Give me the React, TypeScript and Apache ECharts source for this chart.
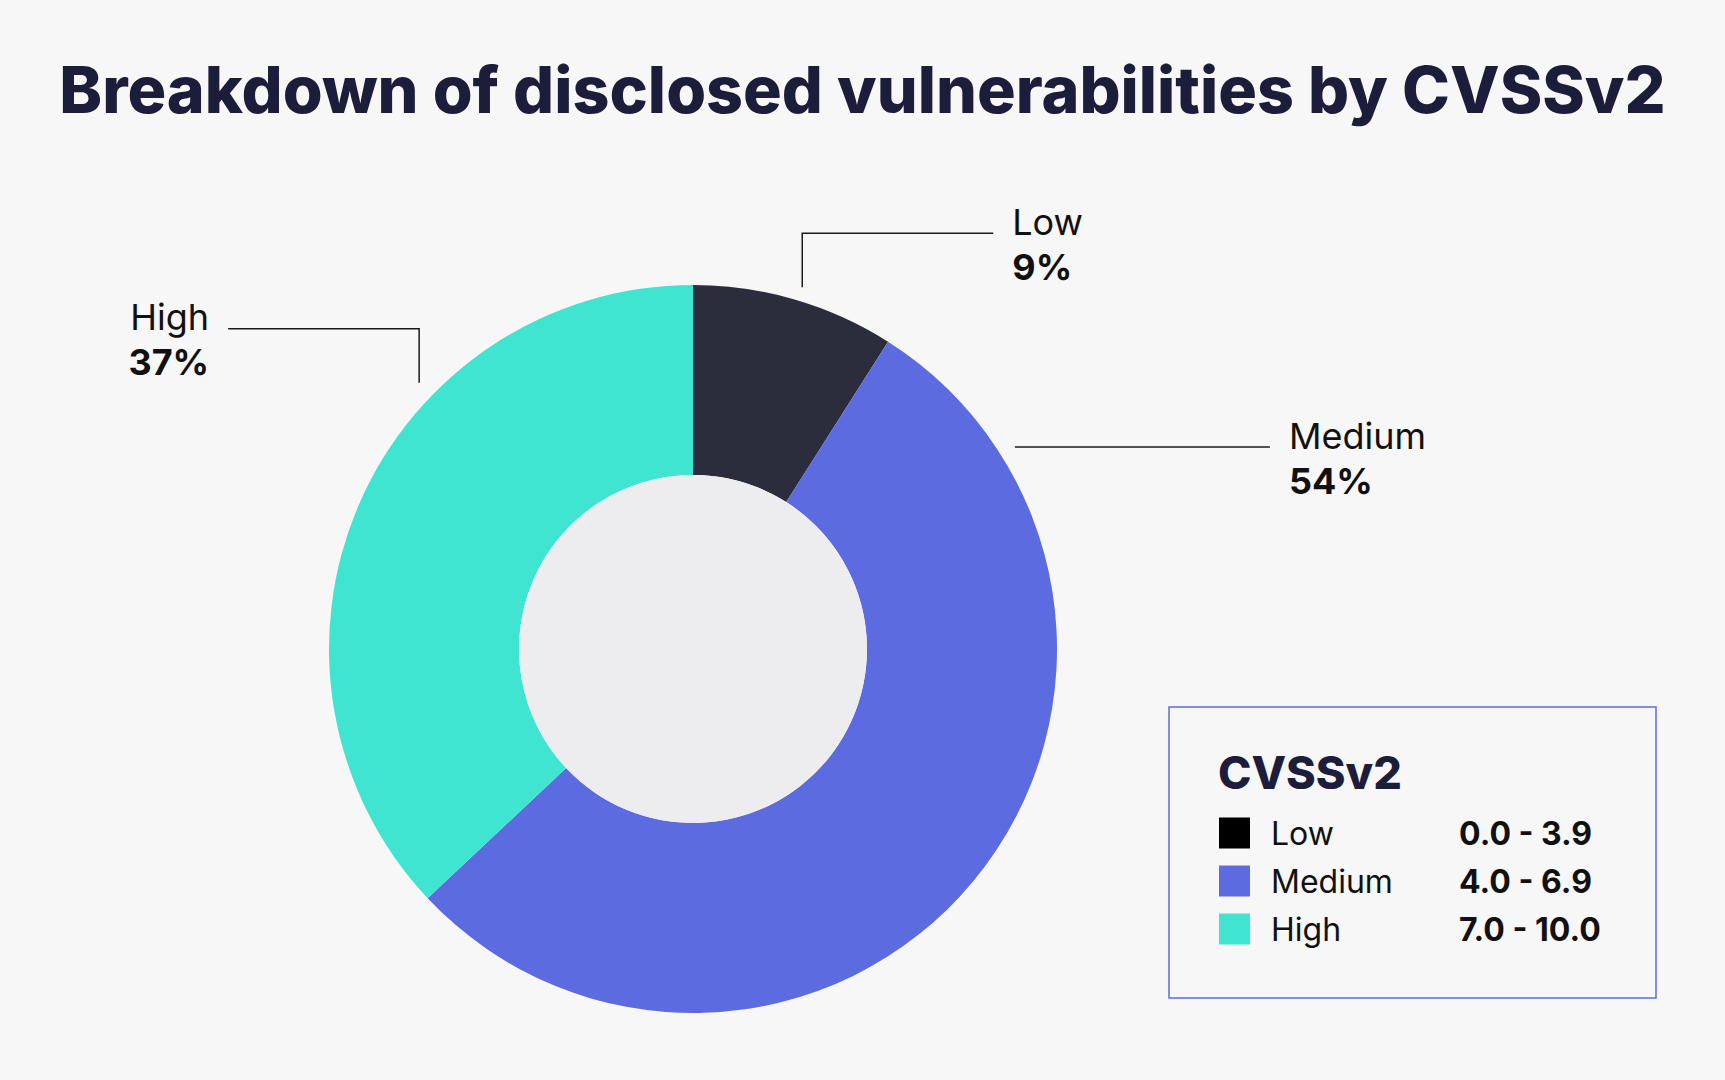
import { useEffect, useRef } from "react";
import * as echarts from "echarts";

const categories = ["Low", "Medium", "High"];
const shares = [9, 54, 37];
const ranges = ["0.0 - 3.9", "4.0 - 6.9", "7.0 - 10.0"];
const sliceColors = ["#2b2d3c", "#5c6be0", "#40e5d2"];
const legendColors = ["#000000", "#5c6be0", "#40e5d2"];

// leader lines: anchor angle (deg from 12 o'clock), anchor radius, rise, run
const leaders = [
  { angle: 16.8, r: 378, rise: 54, run: 191, side: 1 },
  { angle: 57.9, r: 380, rise: 0, run: 255, side: 1 },
  { angle: -45.8, r: 382, rise: 54, run: 191, side: -1 },
];

const CX = 693;
const CY = 649;
const FONT = "Inter, 'Open Sans', sans-serif";

export default function App() {
  const ref = useRef<HTMLDivElement>(null);

  useEffect(() => {
    document.body.style.margin = "0";
    if (!ref.current) return;
    const chart = echarts.init(ref.current, undefined, { renderer: "svg" });

    chart.setOption({
      animation: false,
      backgroundColor: "#f7f7f7",
      textStyle: { fontFamily: FONT },
      title: [
        {
          text: "Breakdown of disclosed vulnerabilities by CVSSv2",
          left: "center",
          top: 52,
          textStyle: {
            fontFamily: FONT,
            fontSize: 64.5,
            fontWeight: 800,
            color: "#1c1d3a",
          },
        },
        {
          text: "CVSSv2",
          left: 1213,
          top: 745,
          textStyle: {
            fontFamily: FONT,
            fontSize: 45,
            fontWeight: 800,
            color: "#1c1d3a",
          },
        },
      ],
      graphic: [
        {
          type: "rect",
          shape: { x: 1169, y: 707, width: 487, height: 291 },
          style: { fill: "none", stroke: "#5c6be0", lineWidth: 1.5 },
          silent: true,
        },
      ],
      legend: {
        orient: "vertical",
        left: 1219,
        top: 817,
        padding: 0,
        itemWidth: 31,
        itemHeight: 31,
        itemGap: 16,
        icon: "rect",
        selectedMode: false,
        data: categories.map((c, i) => ({
          name: c,
          itemStyle: { color: legendColors[i] },
        })),
        formatter: (name: string) =>
          `{n|${name}}{r|${ranges[categories.indexOf(name)]}}`,
        textStyle: {
          rich: {
            n: {
              width: 188,
              padding: [0, 0, 0, 16],
              fontSize: 32,
              fontFamily: FONT,
              color: "#111111",
            },
            r: {
              fontSize: 32,
              fontWeight: 700,
              fontFamily: FONT,
              color: "#111111",
            },
          },
        },
      },
      series: [
        {
          type: "pie",
          silent: true,
          center: [CX, CY],
          radius: [0, 174],
          label: { show: false },
          labelLine: { show: false },
          itemStyle: { color: "#ededef" },
          data: [{ value: 1, name: "" }],
          z: 3,
        },
        {
          type: "pie",
          center: [CX, CY],
          radius: [174, 364],
          startAngle: 90,
          clockwise: true,
          silent: true,
          data: categories.map((c, i) => ({
            name: c,
            value: shares[i],
            itemStyle: { color: sliceColors[i] },
          })),
          label: {
            show: true,
            formatter: (p: { name: string; value: number }) =>
              `{n|${p.name}}\n{p|${p.value}%}`,
            rich: {
              n: {
                fontSize: 36,
                lineHeight: 45,
                fontFamily: FONT,
                color: "#111111",
              },
              p: {
                fontSize: 36,
                lineHeight: 45,
                fontWeight: 700,
                fontFamily: FONT,
                color: "#111111",
              },
            },
          },
          labelLine: {
            show: true,
            lineStyle: { color: "#1a1a1a", width: 1.5 },
          },
          labelLayout: (params: { dataIndex: number }) => {
            const l = leaders[params.dataIndex];
            const a = (l.angle * Math.PI) / 180;
            const ax = CX + l.r * Math.sin(a);
            const ay = CY - l.r * Math.cos(a);
            const ey = ay - l.rise;
            const ex = ax + l.side * l.run;
            return {
              x: ex + l.side * 19,
              y: ey + 11,
              align: l.side > 0 ? "left" : "right",
              verticalAlign: "middle",
              labelLinePoints: [
                [ax, ay],
                [ax, ey],
                [ex, ey],
              ],
            };
          },
        },
      ],
    });

    return () => chart.dispose();
  }, []);

  return <div ref={ref} style={{ width: 1725, height: 1080 }} />;
}
